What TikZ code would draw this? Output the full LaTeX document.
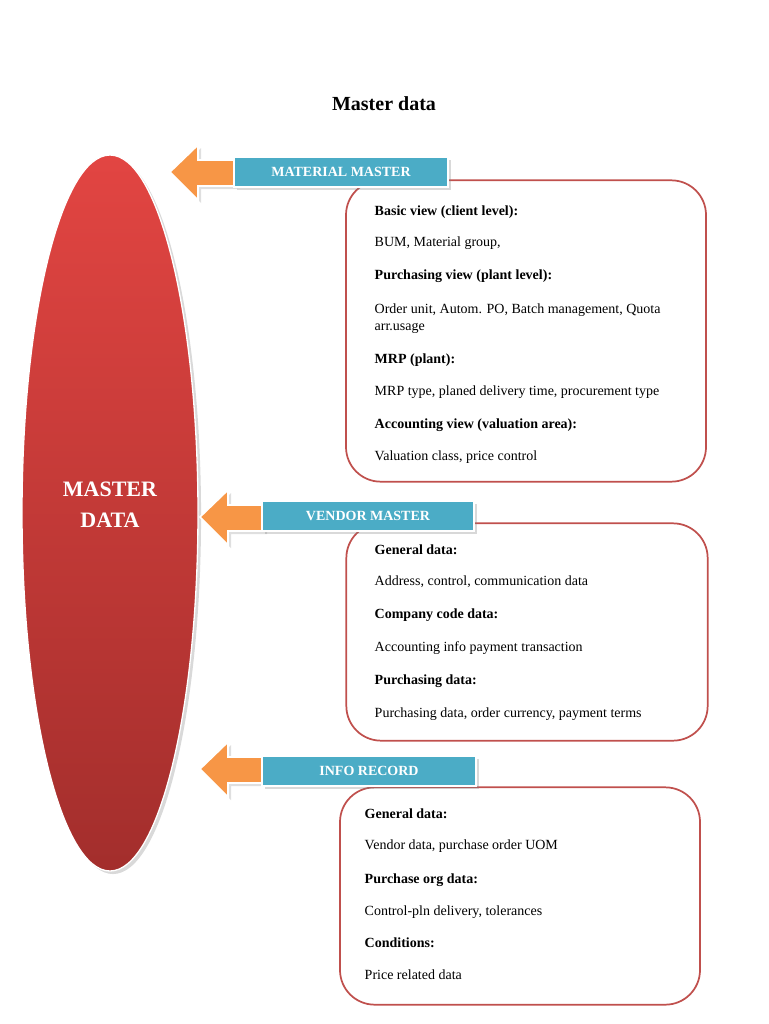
\documentclass[tikz,border=0pt]{standalone}
\usepackage{fontspec}
\setmainfont{Liberation Serif}
\usetikzlibrary{shapes.geometric,shadows}
\definecolor{lbl}{HTML}{4BACC6}
\definecolor{org}{HTML}{F79646}
\definecolor{bord}{HTML}{C0504D}
\definecolor{ellT}{HTML}{E24542}
\definecolor{ellB}{HTML}{A32E2C}
\begin{document}
\begin{tikzpicture}[x=0.75pt,y=-0.75pt,
  lab/.style={draw=white,line width=1.5pt,fill=lbl,text=white,font=\bfseries\fontsize{10.5}{12}\selectfont,minimum height=23pt,inner sep=0pt,drop shadow={opacity=0.3}},
  box/.style={draw=bord,line width=1.3pt,rounded corners=26pt,fill=white},
  arr/.style={fill=org,draw=white,line width=1.2pt,drop shadow={opacity=0.25}},
  hd/.style={anchor=base west,font=\bfseries\fontsize{10.5}{12}\selectfont},
  tx/.style={anchor=base west,font=\fontsize{10.5}{12}\selectfont}]
\useasboundingbox (0,0) rectangle (768,1024);
\node[font=\bfseries\fontsize{15}{18}\selectfont] (title) at (384,104) {Master data};
\node[ellipse,minimum width=132pt,minimum height=537pt,top color=ellT,bottom color=ellB,draw=white,line width=1pt,drop shadow={opacity=0.3}] (ell) at (110,513) {};
\node[text=white,font=\bfseries\fontsize{16.5}{23}\selectfont,align=center] (mdt) at (110,505) {MASTER\\DATA};
% arrows
\foreach \dx/\dy in {0/0,30/345,30/597}{
 \draw[arr,shift={(\dx,\dy)}] (170,172)--(198,145)--(198,160)--(234,160)--(234,186)--(198,186)--(198,200)--cycle;}
% boxes
\node[box,minimum width=270pt,minimum height=226pt] (b1) at (526,331) {};
\node[box,minimum width=271pt,minimum height=163pt] (b2) at (527,632) {};
\node[box,minimum width=270pt,minimum height=163pt] (b3) at (520,896) {};
% labels
\node[lab,minimum width=160pt] (l1) at (341,172) {MATERIAL MASTER};
\node[lab,minimum width=159pt] (l2) at (368,516) {VENDOR MASTER};
\node[lab,minimum width=160pt] (l3) at (369,771) {INFO RECORD};
% texts box1
\node[hd] (t1) at (370,215) {Basic view (client level):};
\node[tx] (t2) at (370,246) {BUM, Material group,};
\node[hd] (t3) at (370,279) {Purchasing view (plant level):};
\node[tx] (t4) at (370,313) {Order unit, Autom. PO, Batch management, Quota};
\node[tx] (t5) at (370,330) {arr.usage};
\node[hd] (t6) at (370,363) {MRP (plant):};
\node[tx] (t7) at (370,395) {MRP type, planed delivery time, procurement type};
\node[hd] (t8) at (370,428) {Accounting view (valuation area):};
\node[tx] (t9) at (370,460) {Valuation class, price control};
% box2
\node[hd] (u1) at (370,554) {General data:};
\node[tx] (u2) at (370,585) {Address, control, communication data};
\node[hd] (u3) at (370,618) {Company code data:};
\node[tx] (u4) at (370,651) {Accounting info payment transaction};
\node[hd] (u5) at (370,684) {Purchasing data:};
\node[tx] (u6) at (370,717) {Purchasing data, order currency, payment terms};
% box3
\node[hd] (v1) at (360,818) {General data:};
\node[tx] (v2) at (360,849) {Vendor data, purchase order UOM};
\node[hd] (v3) at (360,883) {Purchase org data:};
\node[tx] (v4) at (360,915) {Control-pln delivery, tolerances};
\node[hd] (v5) at (360,947) {Conditions:};
\node[tx] (v6) at (360,979) {Price related data};
\end{tikzpicture}
\end{document}
